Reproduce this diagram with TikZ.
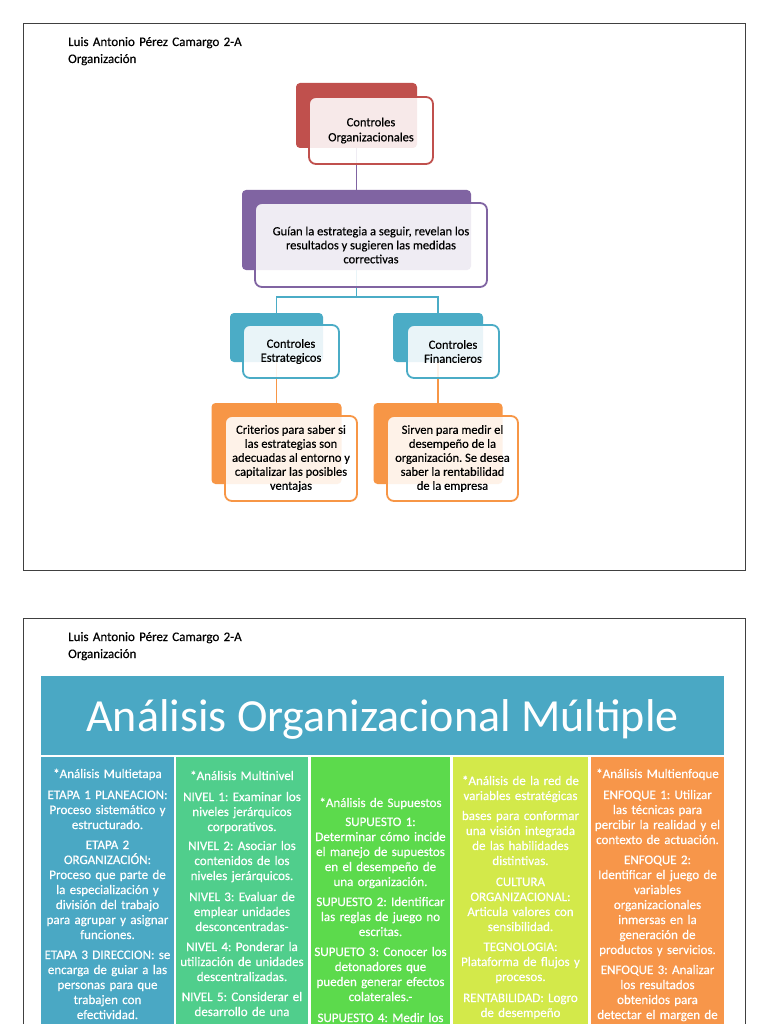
\documentclass[tikz,border=0pt]{standalone}
\usepackage{fontspec}
\setmainfont{Carlito}[RawFeature={embolden=0.45}]
\newfontfamily\titlefont{Carlito}
\definecolor{cred}{HTML}{C0504D}
\definecolor{cpurple}{HTML}{8064A2}
\definecolor{cteal}{HTML}{4BACC6}
\definecolor{corange}{HTML}{F79646}
\definecolor{colA}{HTML}{4AA8C4}
\definecolor{colB}{HTML}{50CE8C}
\definecolor{colC}{HTML}{5CDA4C}
\definecolor{colD}{HTML}{D3E94A}
\definecolor{colE}{HTML}{F7964A}
\definecolor{pageline}{HTML}{404040}
\begin{document}
\frenchspacing
\begin{tikzpicture}[x=1pt,y=-1pt,
  back/.style={rounded corners=4pt, inner sep=0pt, outer sep=0pt, draw=none},
  front/.style={rounded corners=7pt, line width=1.8pt, fill=white, fill opacity=0.88, text opacity=1, draw opacity=1, inner sep=0pt, outer sep=0pt, align=center, text=black, font=\fontsize{12.5}{14}\selectfont\frenchspacing},
  conn/.style={line width=1.6pt},
  colbox/.style={inner sep=0pt, outer sep=0pt, draw=none},
  coltext/.style={anchor=base, inner sep=0pt, align=center, text=white, font=\fontsize{13}{15}\selectfont\frenchspacing},
  head/.style={anchor=base west, inner sep=0pt, align=left, text width=250pt, text=black, font=\fontsize{13}{17}\selectfont},
  pageframe/.style={draw=pageline, line width=0.9pt}
]
\useasboundingbox (0,0) rectangle (768,1024);
\fill[white] (0,0) rectangle (768,1024);
\begin{scope}
\clip (0,0) rectangle (768,1024);

% ---------- page 1 ----------
\draw[pageframe] (23,23) rectangle (745,570);
\node[head] (h1) at (68,46) {Luis Antonio Pérez Camargo 2-A\\Organización};

% back boxes
\node[back, fill=cred, minimum width=121pt, minimum height=65pt] (rb) at (356.5,115.5) {};
\node[back, fill=cpurple, minimum width=229pt, minimum height=80pt] (pb) at (356.5,230) {};
\node[back, fill=cteal, minimum width=93pt, minimum height=49pt] (tlb) at (276.5,337.5) {};
\node[back, fill=cteal, minimum width=90pt, minimum height=49pt] (trb) at (438,337.5) {};
\node[back, fill=corange, minimum width=130pt, minimum height=81pt] (olb) at (276.5,443.5) {};
\node[back, fill=corange, minimum width=129pt, minimum height=81pt] (orb) at (438,443.5) {};

% connectors
\coordinate (j) at (356.5,297);
\draw[conn, cpurple] (rb.south) -- (pb.north);
\draw[conn, cteal] (pb.south) -- (j);
\draw[conn, cteal] (tlb.north) -- (tlb.north |- j) -- (trb.north |- j) -- (trb.north);
\draw[conn, corange] (tlb.south) -- (olb.north);
\draw[conn, corange] (trb.south) -- (orb.north);

% front boxes
\node[front, draw=cred, minimum width=124pt, minimum height=67pt, font=\fontsize{12.5}{15}\selectfont] (rf) at (371,130.5) {Controles\\Organizacionales};
\node[front, draw=cpurple, minimum width=232pt, minimum height=84pt] (pf) at (371,245) {Guían la estrategia a seguir, revelan los\\resultados y sugieren las medidas\\correctivas};
\node[front, draw=cteal, minimum width=96pt, minimum height=53pt] (tlf) at (291,351.5) {Controles\\Estrategicos};
\node[front, draw=cteal, minimum width=92pt, minimum height=53pt] (trf) at (453,351.5) {Controles\\Financieros};
\node[front, draw=corange, minimum width=132pt, minimum height=85pt] (olf) at (291,458.5) {Criterios para saber si\\las estrategias son\\adecuadas al entorno y\\capitalizar las posibles\\ventajas};
\node[front, draw=corange, minimum width=131pt, minimum height=85pt] (orf) at (452.5,458.5) {Sirven para medir el\\desempeño de la\\organización. Se desea\\saber la rentabilidad\\de la empresa};

% ---------- page 2 ----------
\draw[pageframe] (23,1030) -- (23,618) -- (745,618) -- (745,1030);
\node[head] (h2) at (68,641) {Luis Antonio Pérez Camargo 2-A\\Organización};

\node[colbox, fill=colA, minimum width=683pt, minimum height=79pt] (bar) at (382.5,715.5) {};
\node[anchor=base, inner sep=0pt, text=white, font=\titlefont\fontsize{46}{50}\selectfont] (title) at (382.5,731) {Análisis Organizacional Múltiple};

\node[colbox, fill=colA, minimum width=133pt, minimum height=273pt] (c1) at (107.5,893.5) {};
\node[colbox, fill=colB, minimum width=132pt, minimum height=273pt] (c2) at (242,893.5) {};
\node[colbox, fill=colC, minimum width=139pt, minimum height=273pt] (c3) at (380.5,893.5) {};
\node[colbox, fill=colD, minimum width=135pt, minimum height=273pt] (c4) at (520.5,893.5) {};
\node[colbox, fill=colE, minimum width=133pt, minimum height=273pt] (c5) at (657.5,893.5) {};

\node[coltext, text width=132pt] (t1) at (107.5,778) {*Análisis Multietapa\\[6pt]
ETAPA 1 PLANEACION:\\Proceso sistemático y\\estructurado.\\[5pt]
ETAPA 2\\ORGANIZACIÓN:\\Proceso que parte de\\la especialización y\\división del trabajo\\para agrupar y asignar\\funciones.\\[5pt]
ETAPA 3 DIRECCION: se\\encarga de guiar a las\\personas para que\\trabajen con\\efectividad.};

\node[coltext, text width=131pt] (t2) at (242,780) {*Análisis Multinivel\\[6pt]
NIVEL 1: Examinar los\\niveles jerárquicos\\corporativos.\\[4pt]
NIVEL 2: Asociar los\\contenidos de los\\niveles jerárquicos.\\[6pt]
NIVEL 3: Evaluar de\\emplear unidades\\desconcentradas-\\[5pt]
NIVEL 4: Ponderar la\\utilización de unidades\\descentralizadas.\\[5pt]
NIVEL 5: Considerar el\\desarrollo de una};

\node[coltext, text width=138pt] (t3) at (380.5,807) {*Análisis de Supuestos\\[4pt]
SUPUESTO 1:\\Determinar cómo incide\\el manejo de supuestos\\en el desempeño de\\una organización.\\[5pt]
SUPUESTO 2: Identificar\\las reglas de juego no\\escritas.\\[5pt]
SUPUETO 3: Conocer los\\detonadores que\\pueden generar efectos\\colaterales.-\\[6pt]
SUPUESTO 4: Medir los};

\node[coltext, text width=134pt] (t4) at (520.5,785) {*Análisis de la red de\\variables estratégicas\\[5pt]
bases para conformar\\una visión integrada\\de las habilidades\\distintivas.\\[6pt]
CULTURA\\ORGANIZACIONAL:\\Articula valores con\\sensibilidad.\\[5pt]
TEGNOLOGIA:\\Plataforma de flujos y\\procesos.\\[6pt]
RENTABILIDAD: Logro\\de desempeño};

\node[coltext, text width=132pt] (t5) at (657.5,778) {*Análisis Multienfoque\\[6pt]
ENFOQUE 1: Utilizar\\las técnicas para\\percibir la realidad y el\\contexto de actuación.\\[5pt]
ENFOQUE 2:\\Identificar el juego de\\variables\\organizacionales\\inmersas en la\\generación de\\productos y servicios.\\[5pt]
ENFOQUE 3: Analizar\\los resultados\\obtenidos para\\detectar el margen de};
\end{scope}
\end{tikzpicture}
\end{document}
